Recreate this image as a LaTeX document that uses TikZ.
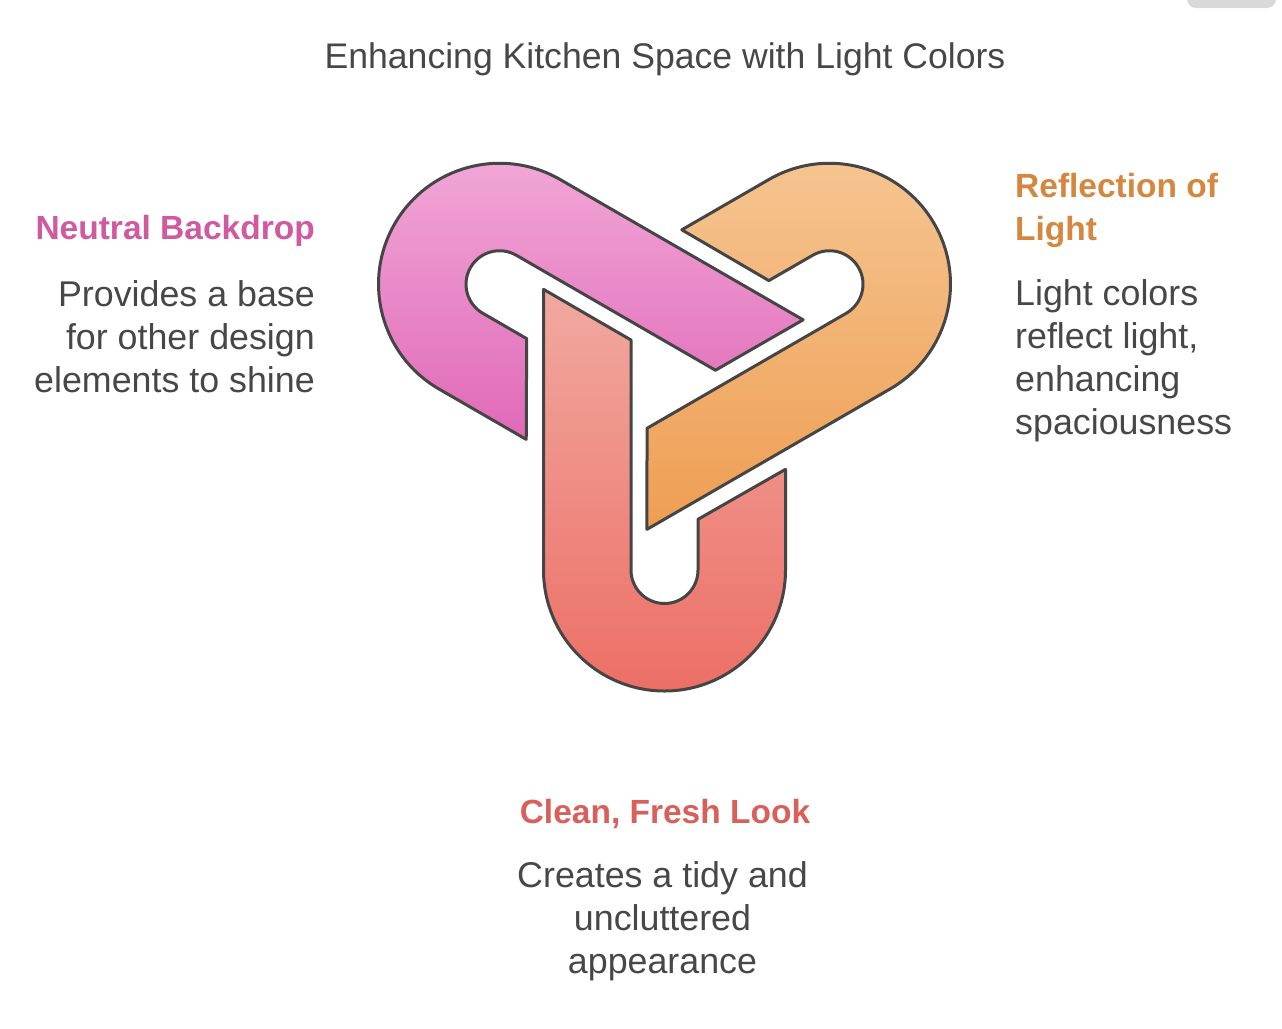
\documentclass[tikz,border=0pt]{standalone}
\usepackage{fontspec}
\setmainfont{Liberation Sans}
\usepackage{tikz}
\definecolor{pinkA}{HTML}{F2A9D8}
\definecolor{pinkB}{HTML}{E069B8}
\definecolor{orangeA}{HTML}{F6C693}
\definecolor{orangeB}{HTML}{EE9E52}
\definecolor{redA}{HTML}{F1A9A0}
\definecolor{redB}{HTML}{EC6F66}
\definecolor{pinktext}{HTML}{D05AA0}
\definecolor{orangetext}{HTML}{D5863F}
\definecolor{redtext}{HTML}{D9605A}
\definecolor{bodytext}{HTML}{474747}
\definecolor{linkline}{HTML}{454545}
\definecolor{uigrey}{HTML}{D9D9D9}

\begin{document}
\begin{tikzpicture}[x=1pt, y=1pt, line join=round,
                link/.style={draw=linkline, line width=3pt},
                title/.style={inner sep=0pt, text=bodytext, font=\fontsize{35.6}{43}\selectfont},
                head/.style={inner sep=0pt, font=\fontsize{33.5}{43}\selectfont\bfseries},
                body/.style={inner sep=0pt, text=bodytext, font=\fontsize{35.8}{43}\selectfont}]
                \useasboundingbox (0,0) rectangle (1282,-1028);
                \def\R{121}  % outer radius of a loop
                \def\r{33.5} % radius of the hole

                % cut-off button in the corner
                \fill[uigrey, rounded corners=9pt] (1187,-8) rectangle (1276,12);

                % three links, each one turned by 120 degrees round O
                \coordinate (O) at (664.5,-379.5);
                \foreach \a/\name in {0/red, 120/orange, 240/pink}{
                    \begin{scope}[shift={(O)}, rotate=\a]
                        \coordinate (\name-lo) at (-\R, 90.2);   % long leg, outer end
                        \coordinate (\name-lb) at (-\R, -190.5);
                        \coordinate (\name-so) at (\R, -89.8);   % short leg, outer end
                        \coordinate (\name-si) at (\r, -139.8);
                        \coordinate (\name-sb) at (\r, -190.5);
                        \coordinate (\name-li) at (-\r, 39.5);
                    \end{scope}
                    \shade[link, top color=\name A, bottom color=\name B]
                        (\name-lo) -- (\name-lb) arc[start angle=180+\a, end angle=360+\a, radius=\R]
                        -- (\name-so) -- (\name-si) -- (\name-sb) arc[start angle=\a, end angle=\a-180, radius=\r]
                        -- (\name-li) -- cycle;
                }

                % texts
                \node[title, anchor=base] (title) at (665,-68) {Enhancing Kitchen Space with Light Colors};
                \node[head, text=pinktext, anchor=base east] (backdrop) at (315,-239.5) {Neutral Backdrop};
                \node[body, align=right, anchor=north east] (backdrop-text) at (315,-280.4)
                    {Provides a base\\for other design\\elements to shine};
                \node[head, text=orangetext, align=left, anchor=north west] (reflection) at (1015,-173.3)
                    {Reflection of\\Light};
                \node[body, align=left, anchor=north west] (reflection-text) at (1015,-279.4)
                    {Light colors\\reflect light,\\enhancing\\spaciousness};
                \node[head, text=redtext, anchor=base] (fresh) at (665,-823.3) {Clean, Fresh Look};
                \node[body, align=center, anchor=north] (fresh-text) at (662.5,-861.4)
                    {Creates a tidy and\\uncluttered\\appearance};
\end{tikzpicture}
\end{document}
